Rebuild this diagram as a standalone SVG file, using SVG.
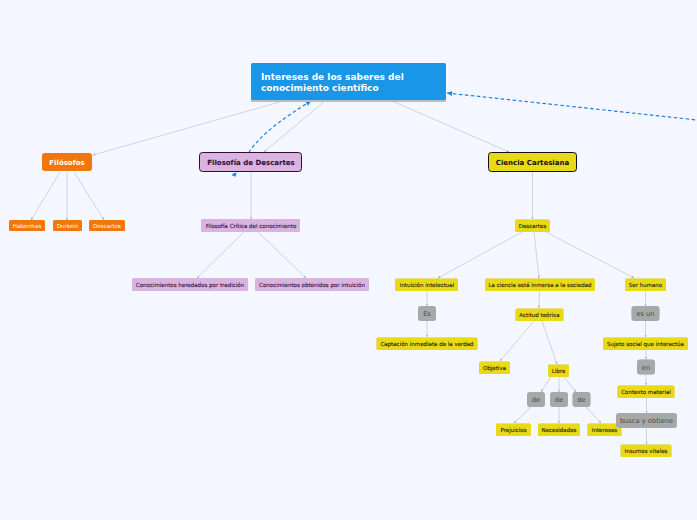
<svg xmlns="http://www.w3.org/2000/svg" width="697" height="520" viewBox="0 0 697 520">
<style>
text{font-family:"DejaVu Sans",sans-serif;text-anchor:middle}
.l line{stroke:#d2d3d8;stroke-width:1;marker-end:url(#t)}
.d{fill:none;stroke:#1a80e8;stroke-width:1.2;stroke-dasharray:3.5 2.5}
.o rect,.p rect,.y rect,.g rect{filter:drop-shadow(0 .7px 0 #d5d6dc)}
.o rect{fill:#f3760c}.o text{fill:#fff;font-size:5.6px}
.p rect{fill:#dab3e0}.p text{fill:#33123c;font-size:5.5px;stroke:#33123c;stroke-width:.1}
.y rect{fill:#e8da17}.y text{fill:#221f00;font-size:5.5px;stroke:#221f00;stroke-width:.1}
.g rect{fill:#a6a8a9}.g text{fill:#4c4c4c;font-size:6.7px}
.b{font-weight:bold}
</style>
<defs>
<marker id="a" markerUnits="userSpaceOnUse" markerWidth="7" markerHeight="6" refX="0" refY="3" orient="auto"><path d="M0 3L5 .5V5.500Z" fill="#1a80e8"/></marker>
<marker id="t" markerUnits="userSpaceOnUse" markerWidth="4" markerHeight="4" refX="2.500" refY="1.500" orient="auto"><path d="M2.500 1.500L0 .3V2.700Z" fill="#a9abb3"/></marker>
</defs>
<rect width="697" height="520" fill="#f4f7ff"/>
<g id="connectors">
<g class="l">
<line x1="283" y1="101" x2="93" y2="155"/><line x1="325" y1="101" x2="264" y2="152"/><line x1="392" y1="101" x2="509" y2="152"/>
<line x1="60" y1="172" x2="31" y2="220"/><line x1="67" y1="172" x2="67" y2="220"/><line x1="74" y1="172" x2="104" y2="220"/>
<line x1="251" y1="172" x2="251" y2="219"/><line x1="244" y1="232" x2="197" y2="278"/><line x1="258" y1="232" x2="306" y2="278"/>
<line x1="532.500" y1="172" x2="532.500" y2="219"/><line x1="522" y1="232" x2="438" y2="278"/><line x1="534" y1="232" x2="539" y2="278"/><line x1="546" y1="232" x2="634" y2="278"/>
<line x1="427" y1="291" x2="427" y2="306"/><line x1="427" y1="321" x2="427" y2="337"/>
<line x1="539.500" y1="291" x2="539" y2="308"/><line x1="534" y1="321" x2="500" y2="361"/><line x1="542" y1="321" x2="557" y2="364"/>
<line x1="551" y1="377" x2="541" y2="392"/><line x1="559" y1="377" x2="559" y2="392"/><line x1="564" y1="377" x2="576" y2="392"/>
<line x1="531" y1="407" x2="514" y2="423"/><line x1="559" y1="407" x2="559" y2="423"/><line x1="586" y1="407" x2="601" y2="423"/>
<line x1="645.500" y1="291" x2="645.500" y2="306"/><line x1="645.500" y1="321" x2="645.500" y2="337"/><line x1="646" y1="350" x2="646" y2="359"/><line x1="646" y1="375" x2="646" y2="385"/><line x1="646.500" y1="398" x2="646.500" y2="413"/><line x1="646.500" y1="428" x2="646.500" y2="444"/>
</g>
<path class="d" d="M311 101C285 117 262 133 249 152" marker-start="url(#a)"/>
<path class="d" d="M235 173.500Q233 176.500 230 176"/>
<path d="M236.500 172.500L232 174L235.500 177Z" fill="#1a80e8"/>
<path class="d" d="M447 93L697 120" marker-start="url(#a)"/>
</g>
<g id="root"><rect x="251" y="65" width="195" height="37" rx="1" fill="#bcbcbc"/><rect x="251" y="63" width="195" height="37" rx="1.500" fill="#1a96e8"/><text class="b" x="261" y="80" style="text-anchor:start;font-size:9px;fill:#fff">Intereses de los saberes del</text><text class="b" x="261" y="91" style="text-anchor:start;font-size:9px;fill:#fff">conocimiento científico</text></g>
<g id="filosofos" class="o"><rect x="42" y="153" width="50" height="18" rx="3"/><text class="b" x="67" y="165" style="font-size:7px">Filósofos</text></g>
<g id="habermas" class="o"><rect x="9" y="220" width="36" height="11" rx="1.500"/><text x="27" y="228">Habermas</text></g>
<g id="durkein" class="o"><rect x="53" y="220" width="29" height="11" rx="1.500"/><text x="67.500" y="228">Durkein</text></g>
<g id="descartes1" class="o"><rect x="89" y="220" width="36" height="11" rx="1.500"/><text x="107" y="228">Descartes</text></g>
<g id="filosofia" class="p"><rect x="199.500" y="152.500" width="102" height="19" rx="3" stroke="#2a1030" stroke-width="1"/><text class="b" x="251" y="165" style="font-size:7px">Filosofía de Descartes</text></g>
<g id="critica" class="p"><rect x="201" y="219" width="99" height="13" rx="1.500"/><text x="251" y="228">Filosofía Crítica del conocimiento</text></g>
<g id="heredados" class="p"><rect x="132" y="278" width="116" height="13" rx="1.500"/><text x="190" y="287">Conocimientos heredados por tradición</text></g>
<g id="obtenidos" class="p"><rect x="255" y="278" width="114" height="13" rx="1.500"/><text x="312" y="287">Conocimientos obtenidos por intuición</text></g>
<g id="ciencia" class="y"><rect x="488.500" y="152.500" width="88" height="19" rx="3" stroke="#111" stroke-width="1"/><text class="b" x="532.500" y="165" style="font-size:7px;fill:#111;stroke:none">Ciencia Cartesiana</text></g>
<g id="descartes2" class="y"><rect x="515" y="219.500" width="35" height="12.500" rx="1.500"/><text x="532.500" y="228">Descartes</text></g>
<g id="intuicion" class="y"><rect x="395" y="278.500" width="63" height="12.500" rx="1.500"/><text x="427" y="287">Intuición intelectual</text></g>
<g id="inmersa" class="y"><rect x="485" y="278.500" width="110" height="12.500" rx="1.500"/><text x="540" y="287">La ciencia está inmersa a la sociedad</text></g>
<g id="serhumano" class="y"><rect x="625" y="278.500" width="41" height="12.500" rx="1.500"/><text x="645.500" y="287">Ser humano</text></g>
<g id="es" class="g"><rect x="418" y="306" width="18" height="15" rx="3"/><text x="427" y="316">Es</text></g>
<g id="captacion" class="y"><rect x="376.500" y="337.500" width="101" height="12.500" rx="1.500"/><text x="427" y="346">Captación inmediata de la verdad</text></g>
<g id="actitud" class="y"><rect x="515.500" y="308.500" width="48" height="12.500" rx="1.500"/><text x="539.500" y="317">Actitud teórica</text></g>
<g id="objetiva" class="y"><rect x="479" y="361.500" width="31" height="12.500" rx="1.500"/><text x="494.500" y="370">Objetiva</text></g>
<g id="libre" class="y"><rect x="548" y="364.500" width="21" height="12.500" rx="1.500"/><text x="558.500" y="373">Libre</text></g>
<g id="de1" class="g"><rect x="527" y="392" width="18" height="15" rx="3"/><text x="536" y="402">de</text></g>
<g id="de2" class="g"><rect x="550" y="392" width="18" height="15" rx="3"/><text x="559" y="402">de</text></g>
<g id="de3" class="g"><rect x="572.500" y="392" width="18" height="15" rx="3"/><text x="581.500" y="402">de</text></g>
<g id="prejuicios" class="y"><rect x="496" y="423.500" width="35" height="12.500" rx="1.500"/><text x="513.500" y="432">Prejuicios</text></g>
<g id="necesidades" class="y"><rect x="538" y="423.500" width="42" height="12.500" rx="1.500"/><text x="559" y="432">Necesidades</text></g>
<g id="intereses" class="y"><rect x="587.500" y="423.500" width="34" height="12.500" rx="1.500"/><text x="604.500" y="432">Intereses</text></g>
<g id="esun" class="g"><rect x="631.500" y="306" width="28" height="15" rx="3"/><text x="645.500" y="316">es un</text></g>
<g id="sujeto" class="y"><rect x="603" y="337.500" width="85" height="12.500" rx="1.500"/><text x="645.500" y="346">Sujeto social que interactúa</text></g>
<g id="en" class="g"><rect x="637" y="359.500" width="18" height="15" rx="3"/><text x="646" y="369.500">en</text></g>
<g id="contexto" class="y"><rect x="617.500" y="385.500" width="57" height="12.500" rx="1.500"/><text x="646" y="394">Contexto material</text></g>
<g id="busca" class="g"><rect x="616" y="413" width="61" height="15" rx="3"/><text x="646.500" y="423">busca y obtiene</text></g>
<g id="insumos" class="y"><rect x="620.500" y="444.500" width="51" height="12.500" rx="1.500"/><text x="646" y="453">Insumos vitales</text></g>
</svg>
